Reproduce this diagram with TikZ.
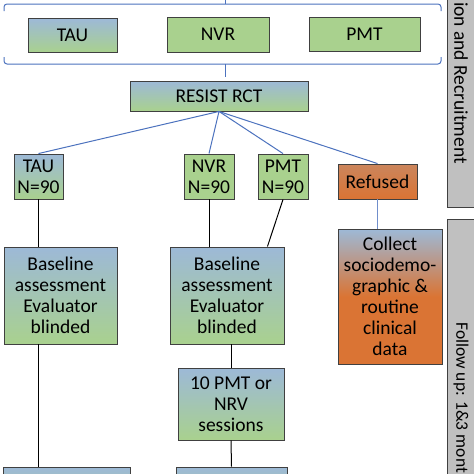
\documentclass[tikz,border=0pt]{standalone}
\usepackage{fontspec}
\setmainfont{Carlito}
\usepackage{tikz}
\usetikzlibrary{calc}
\usepackage{xcolor}
\definecolor{armgreen}{RGB}{169,209,142}
\definecolor{armblue}{RGB}{157,185,215}
\definecolor{armorange}{RGB}{218,116,52}
\definecolor{linkblue}{RGB}{76,114,190}
\definecolor{sidegray}{RGB}{192,192,192}
\definecolor{edge}{RGB}{64,64,64}

\begin{document}
\begin{tikzpicture}[x=1pt, y=-1pt,
  box/.style={draw=edge, line width=0.9pt, rectangle, inner sep=0pt, align=center,
    font=\fontsize{19.5}{21}\selectfont},
  plain/.style={box, fill=armgreen},
  fade/.style={box, top color=armblue, bottom color=armgreen},
  refuse/.style={box, top color=armorange!75!armblue, bottom color=armorange},
  link/.style={linkblue, line width=1pt},
  step line/.style={black, line width=1pt}]
  \useasboundingbox (0,0) rectangle (474,474);
  \clip (0,0) rectangle (474,474);
  \fill[white] (0,0) rectangle (474,474);
  % Brackets round the arms
  \draw[link, rounded corners=3pt] (4,11) -- (4,4) -- (441,4) -- (441,11);
  \draw[link] (225,4) -- (225,-2);
  \draw[link, rounded corners=3pt] (4,57) -- (4,64) -- (441,64) -- (441,57);
  \coordinate (brk) at (225,64);
  \coordinate (brkend) at (225,77);
  \draw[link] (brk) -- (brkend);
  % Arms
  \node[fade, minimum width=89, minimum height=34] (tau) at (72.5,35.5) {TAU};
  \node[plain, minimum width=102, minimum height=35] (nvr) at (218,34.5) {NVR};
  \node[plain, minimum width=111, minimum height=34] (pmt) at (364.5,34) {PMT};
  \node[fade, minimum width=178, minimum height=30] (rct) at (219,96) {RESIST RCT};
  % Randomised groups
  \node[fade, minimum width=49, minimum height=45] (taun) at (38.5,176.5) {TAU\\N=90};
  \node[plain, minimum width=50, minimum height=45] (nvrn) at (209,176.5) {NVR\\N=90};
  \node[plain, minimum width=50, minimum height=45] (pmtn) at (283,176.5) {PMT\\N=90};
  \node[refuse, minimum width=79, minimum height=35] (ref) at (377.5,181.5) {Refused};
  \draw[link] (rct.south) -- (taun.north);
  \draw[link] (rct.south) -- (nvrn.north);
  \draw[link] (rct.south) -- (pmtn.north);
  \draw[link] (rct.south) -- (ref.north);
  % Baseline
  \node[fade, minimum width=113, minimum height=97] (base1) at (60.5,295.5)
    {Baseline\\assessment\\Evaluator\\blinded};
  \node[fade, minimum width=114, minimum height=97] (base2) at (227,295.5)
    {Baseline\\assessment\\Evaluator\\blinded};
  \node[box, top color=armblue, bottom color=armorange, middle color=armorange,
    minimum width=104, minimum height=135] (collect) at (390,296.5)
    {Collect\\sociodemo-\\graphic \&\\routine\\clinical\\data};
  \draw[step line] (taun.south) -- (taun.south |- base1.north);
  \draw[step line] (nvrn.south) -- (nvrn.south |- base2.north);
  \draw[step line] (pmtn.south) -- ($(base2.north east)+(-17,0)$);
  \draw[linkblue!80, line width=1pt] (ref.south) -- (ref.south |- collect.north);
  % Sessions and follow up
  \node[fade, minimum width=106, minimum height=72] (sess) at (231,404)
    {10 PMT or\\NRV\\sessions};
  \node[fade, minimum width=127, minimum height=46] (out1) at (66.5,490) {};
  \node[fade, minimum width=111, minimum height=46] (out2) at (231.5,490) {};
  \draw[step line] (base1.south -| taun.south) -- (out1.north -| taun.south);
  \draw[step line] (base2.south -| sess.north) -- (sess.north);
  \draw[step line] (sess.south) -- (out2.north);
  % Side bars
  \node[box, fill=sidegray, minimum width=30, minimum height=215] (side1) at (462,100) {};
  \node[box, fill=sidegray, minimum width=30, minimum height=260] (side2) at (462,349) {};
  \node[font=\fontsize{19.5}{21}\selectfont, rotate=-90, anchor=east, inner sep=0pt]
    (recruit) at (461,164) {ion and Recruitment};
  \node[font=\fontsize{17.5}{21}\selectfont, rotate=-90, anchor=west, inner sep=0pt]
    (follow) at (461,322) {Follow up: 1\&3 mont};
\end{tikzpicture}
\end{document}
